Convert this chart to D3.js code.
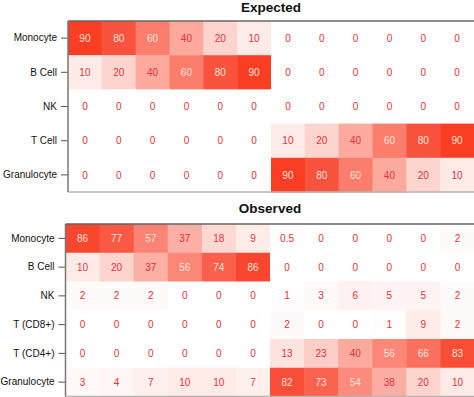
<!DOCTYPE html>
<html>
<head>
<meta charset="utf-8">
<script src="https://cdn.jsdelivr.net/npm/d3@7"></script>
<style>
  body { margin: 0; background: #fff; }
  svg { display: block; font-family: "Liberation Sans", Arial, Helvetica, sans-serif; }
</style>
</head>
<body>
<div id="chart"></div>
<script>
// 12 samples (columns), no labels shown
var samples = d3.range(12).map(String);

var expectedRows = ["Monocyte", "B Cell", "NK", "T Cell", "Granulocyte"];
var expectedMonocyte    = [90, 80, 60, 40, 20, 10, 0, 0, 0, 0, 0, 0];
var expectedBCell       = [10, 20, 40, 60, 80, 90, 0, 0, 0, 0, 0, 0];
var expectedNK          = [0, 0, 0, 0, 0, 0, 0, 0, 0, 0, 0, 0];
var expectedTCell       = [0, 0, 0, 0, 0, 0, 10, 20, 40, 60, 80, 90];
var expectedGranulocyte = [0, 0, 0, 0, 0, 0, 90, 80, 60, 40, 20, 10];

var observedRows = ["Monocyte", "B Cell", "NK", "T (CD8+)", "T (CD4+)", "Granulocyte"];
var observedMonocyte    = [86, 77, 57, 37, 18, 9, 0.5, 0, 0, 0, 0, 2];
var observedBCell       = [10, 20, 37, 56, 74, 86, 0, 0, 0, 0, 0, 0];
var observedNK          = [2, 2, 2, 0, 0, 0, 1, 3, 6, 5, 5, 2];
var observedCD8         = [0, 0, 0, 0, 0, 0, 2, 0, 0, 1, 9, 2];
var observedCD4         = [0, 0, 0, 0, 0, 0, 13, 23, 40, 56, 66, 83];
var observedGranulocyte = [3, 4, 7, 10, 10, 7, 82, 73, 54, 38, 20, 10];

var expectedValues = [expectedMonocyte, expectedBCell, expectedNK, expectedTCell, expectedGranulocyte];
var observedValues = [observedMonocyte, observedBCell, observedNK, observedCD8, observedCD4, observedGranulocyte];

var width = 474, height = 397;
var svg = d3.select("#chart").append("svg").attr("width", width).attr("height", height);

var color = d3.scaleLinear().domain([0, 100]).range(["#ffffff", "#f8280c"]).interpolate(d3.interpolateRgb);

function drawPanel(title, rows, values, box) {
	var x = d3.scaleBand().domain(samples).range([box.left, box.right]);
	var y = d3.scaleBand().domain(rows).range([box.top, box.bottom]);

	var cells = [];
	rows.forEach(function(r, i) {
		values[i].forEach(function(v, j) {
			cells.push({row: r, col: samples[j], value: v});
		});
	});

	var g = svg.append("g");

	g.selectAll("rect.cell")
		.data(cells)
		.enter().append("rect")
			.attr("class", "cell")
			.attr("x", function(d) { return x(d.col); })
			.attr("y", function(d) { return y(d.row); })
			.attr("width", x.bandwidth() + 0.5)
			.attr("height", y.bandwidth() + 0.5)
			.attr("fill", function(d) { return color(d.value); });

	g.selectAll("text.val")
		.data(cells)
		.enter().append("text")
			.attr("class", "val")
			.attr("x", function(d) { return x(d.col) + x.bandwidth() / 2; })
			.attr("y", function(d) { return y(d.row) + y.bandwidth() / 2; })
			.attr("dy", "0.36em")
			.attr("text-anchor", "middle")
			.style("font-size", "10px")
			.attr("fill", function(d) { return d.value >= 50 ? "#ffe2d9" : "#e2333a"; })
			.text(function(d) { return d.value; });

	// left axis with row names
	var axis = g.append("g")
		.attr("transform", "translate(" + box.left + ",0)")
		.call(d3.axisLeft(y).tickSize(7).tickPadding(4));
	axis.select(".domain").remove();
	axis.selectAll("line").attr("stroke", "#555");
	axis.selectAll("text").style("font-size", "10px").attr("fill", "#111");

	// frame
	g.append("line").attr("x1", box.left).attr("x2", width).attr("y1", box.top).attr("y2", box.top)
		.attr("stroke", "#666").attr("stroke-width", 1.5);
	g.append("line").attr("x1", box.left).attr("x2", width).attr("y1", box.bottom).attr("y2", box.bottom)
		.attr("stroke", "#b5b5b5").attr("stroke-width", 1.5);
	g.append("line").attr("x1", box.left).attr("x2", box.left).attr("y1", box.top).attr("y2", box.bottom)
		.attr("stroke", "#777").attr("stroke-width", 1.5);

	g.append("text")
		.attr("x", (box.left + box.right) / 2)
		.attr("y", box.titleY)
		.attr("text-anchor", "middle")
		.style("font-size", "13.5px")
		.style("font-weight", "bold")
		.attr("fill", "#111")
		.text(title);
}

drawPanel("Expected", expectedRows, expectedValues, {left: 68, right: 474, top: 21, bottom: 192, titleY: 12});
drawPanel("Observed", observedRows, observedValues, {left: 65.5, right: 474.5, top: 224, bottom: 396.5, titleY: 213});
</script>
</body>
</html>
